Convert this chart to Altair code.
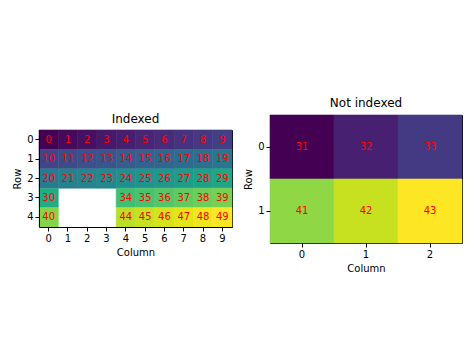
import altair as alt
import pandas as pd

# Left panel ("Indexed"): rows 0-4, columns 0-9, None = missing cell
indexed_rows = [0, 1, 2, 3, 4]
indexed_cols = [0, 1, 2, 3, 4, 5, 6, 7, 8, 9]
indexed_values = [
    [0, 1, 2, 3, 4, 5, 6, 7, 8, 9],
    [10, 11, 12, 13, 14, 15, 16, 17, 18, 19],
    [20, 21, 22, 23, 24, 25, 26, 27, 28, 29],
    [30, None, None, None, 34, 35, 36, 37, 38, 39],
    [40, None, None, None, 44, 45, 46, 47, 48, 49],
]

# Right panel ("Not indexed")
plain_rows = [0, 1]
plain_cols = [0, 1, 2]
plain_values = [
    [31, 32, 33],
    [41, 42, 43],
]

DROP = 15  # left panel sits lower than the right one


def to_frame(rows, cols, values):
    recs = []
    for r in rows:
        for c in cols:
            v = values[r][c]
            if v is not None:
                recs.append({"row": r, "col": c, "value": v})
    return pd.DataFrame(recs)


def color_enc(domain):
    sc = alt.Scale(scheme="viridis", domain=domain)
    return dict(
        color=alt.Color("value:Q", scale=sc, legend=None),
        stroke=alt.Stroke("value:Q", scale=sc, legend=None),
    )


# ---- left panel: frame drawn with axis domains, heatmap lowered inside view
left_df = to_frame(indexed_rows, indexed_cols, indexed_values)
lh = 97
yscale_left = alt.Scale(range=[DROP, DROP + lh])
left_rect = alt.Chart(left_df).mark_rect(strokeWidth=0.6).encode(
    x=alt.X("col:O", title="Column",
            axis=alt.Axis(labelAngle=0, domain=True, domainColor="black")),
    y=alt.Y("row:O", title="Row", scale=yscale_left,
            axis=alt.Axis(domain=True, domainColor="black")),
    **color_enc([0, 49]),
)
left_text = alt.Chart(left_df).mark_text(color="red", fontSize=10, font="DejaVu Sans").encode(
    x=alt.X("col:O", axis=alt.Axis(orient="top", labels=False, ticks=False, title=None,
                                   domain=True, domainColor="black", offset=-DROP)),
    y=alt.Y("row:O", scale=yscale_left,
            axis=alt.Axis(orient="right", labels=False, ticks=False, title=None,
                          domain=True, domainColor="black")),
    text="value:Q",
)
left = alt.layer(left_rect, left_text).resolve_axis(x="independent", y="independent").properties(
    width=193, height=DROP + lh,
    title=alt.TitleParams("Indexed", offset=-(DROP - 4)),
    view=alt.ViewBackground(strokeOpacity=0),
)

# ---- right panel
right_df = to_frame(plain_rows, plain_cols, plain_values)
rbase = alt.Chart(right_df).encode(
    x=alt.X("col:O", title="Column", axis=alt.Axis(labelAngle=0)),
    y=alt.Y("row:O", title="Row"),
)
right = alt.layer(
    rbase.mark_rect(strokeWidth=0.6).encode(**color_enc([31, 43])),
    rbase.mark_text(color="red", fontSize=10, font="DejaVu Sans").encode(text="value:Q"),
).properties(width=192, height=128, title=alt.TitleParams("Not indexed", offset=5))

chart = alt.HConcatChart(hconcat=[left, right], spacing=10).resolve_scale(
    color="independent", stroke="independent"
).properties(
    padding={"top": 88, "left": 4, "right": 0, "bottom": 0}
).configure_view(stroke="black", strokeWidth=1).configure_axis(
    labelFont="DejaVu Sans",
    labelFontSize=10,
    labelColor="black",
    titleFont="DejaVu Sans",
    titleFontSize=10,
    titleFontWeight="normal",
    titleColor="black",
    tickColor="black",
    tickSize=4,
    domain=False,
    grid=False,
).configure_title(
    font="DejaVu Sans", fontSize=12, fontWeight="normal", color="black"
)

chart.save("out.html", embed_options={"renderer": "svg", "actions": False})
